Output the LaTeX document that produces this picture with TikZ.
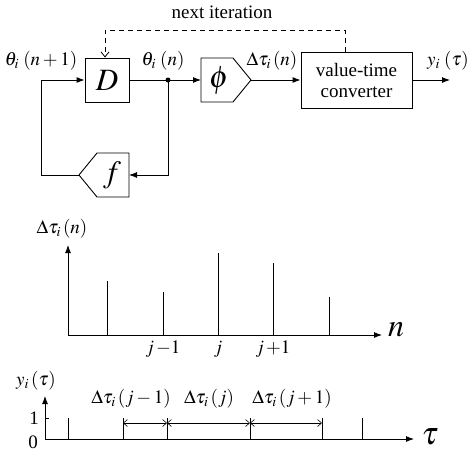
\documentclass[tikz,border=0pt]{standalone}
\usepackage{mathptmx}
\usepackage{fontspec}
\setmainfont{Liberation Serif}
\usetikzlibrary{arrows.meta}

\tikzset{
  blk/.style={draw, line width=0.9pt, inner sep=0pt},
  sig/.style={line width=0.9pt, -{Latex[length=8pt,width=6pt]}},
  barb/.style={line width=0.6pt, {Straight Barb[length=4pt,width=7pt]}-{Straight Barb[length=4pt,width=7pt]}},
  lbl/.style={inner sep=0pt, font=\fontsize{19}{22}\selectfont},
  big/.style={inner sep=0pt, font=\fontsize{32}{32}\selectfont},
}

\begin{document}
\begin{tikzpicture}[x=1pt,y=1pt,yscale=-1,xscale=1]
\useasboundingbox (0,0) rectangle (474,451);

%Shape: Delay block
\node[blk, minimum width=44, minimum height=44] (D) at (107,80) {\fontsize{31}{31}\selectfont$D$};
%Shape: phi block
\draw[line width=0.9pt] (201,58) -- (233,58) -- (251,80) -- (233,102) -- (201,102) -- cycle ;
\node[inner sep=0pt] (phi) at (219,81) {\fontsize{31}{31}\selectfont$\phi$};
\coordinate (phiin) at (201,80);
\coordinate (phiout) at (251,80);
%Shape: f block
\draw[line width=0.9pt] (129,153) -- (97,153) -- (79,175) -- (97,197) -- (129,197) -- cycle ;
\node[inner sep=0pt] (f) at (112,175) {\fontsize{31}{31}\selectfont$f$};
\coordinate (fin) at (129,175);
\coordinate (fout) at (79,175);
%Shape: converter
\node[blk, minimum width=111, minimum height=56, align=center, font=\fontsize{19}{21}\selectfont] (vtc) at (356.5,80) {value-time\\converter};

%Straight Lines: loop
\coordinate (junc) at (168,80);
\coordinate (loop) at (41,175);
\coordinate (yout) at (450,80);
\fill (junc) circle (2.5);
\draw[line width=0.9pt] (D.east) -- (junc) ;
\draw[sig] (junc) -- (phiin) ;
\draw[sig] (junc) |- (fin) ;
\draw[sig] (fout) -- (loop) |- (D.west) ;
\draw[sig] (phiout) -- (vtc.west) ;
\draw[sig] (vtc.east) -- (yout) ;
%Straight Lines: next iteration
\coordinate (itR) at (345,30);
\coordinate (itL) at (105,30);
\draw[line width=0.8pt, dash pattern=on 5pt off 4pt, -{Straight Barb[length=5pt,width=8pt]}] (vtc.north -| itR) -- (itR) -- (itL) -- (D.north -| itL) ;

% Text Node
\node[lbl] (nxt) at (222,12) {next iteration};
% Text Node
\node[lbl] (thin) at (41,61) {$\theta_i\;(n+1)$};
% Text Node
\node[lbl] (thout) at (163,61) {$\theta_i\;(n)$};
% Text Node
\node[lbl] (dtn) at (272,61) {$\Delta\tau_i\,(n)$};
% Text Node
\node[lbl] (yt) at (448,61) {$y_i\;(\tau)$};

%Straight Lines: stem plot
\coordinate (O1) at (68,335);
\coordinate (Y1) at (68,245);
\coordinate (X1) at (382,335);
\draw[sig] (O1) -- (Y1) ;
\draw[sig] (O1) -- (X1) ;
\foreach \x/\h in {107/281, 163/292, 218/253, 273/263, 329/297}
  \draw[line width=0.9pt] (\x,335) -- (\x,\h) ;
% Text Node
\node[lbl] (dtax) at (62,229) {$\Delta\tau_i\,(n)$};
% Text Node
\node[big] (nax) at (396,330) {$n$};
% Text Node
\node[lbl] (jm) at (163,349) {$j\,{-}1$};
% Text Node
\node[lbl] (j) at (218,349) {$j$};
% Text Node
\node[lbl] (jp) at (273,349) {$j\,{+}1$};

%Straight Lines: pulse train
\coordinate (O2) at (45,439);
\coordinate (Y2) at (45,396);
\coordinate (X2) at (414,439);
\draw[sig] (O2) -- (Y2) ;
\draw[sig] (O2) -- (X2) ;
\draw[line width=0.6pt] (45,418) -- (49,418) ;
\foreach \x in {68,123,167,250,322,362}
  \draw[line width=0.9pt] (\x,439) -- (\x,418) ;
\coordinate (p1) at (123,423);
\coordinate (p2) at (167,423);
\coordinate (p3) at (250,423);
\coordinate (p4) at (322,423);
\draw[barb] (p1) -- (p2) ;
\draw[barb] (p2) -- (p3) ;
\draw[barb] (p3) -- (p4) ;
% Text Node
\node[lbl] (ytax) at (36,381) {$y_i\,(\tau)$};
% Text Node
\node[lbl] (one) at (34,418) {1};
% Text Node
\node[lbl] (zero) at (33,442) {0};
% Text Node
\node[big] (tau) at (430,437) {$\tau$};
% Text Node
\node[lbl] (djm) at (131,399) {$\Delta\tau_i\,(j-1)$};
% Text Node
\node[lbl] (dj) at (209,399) {$\Delta\tau_i\,(j)$};
% Text Node
\node[lbl] (djp) at (292,399) {$\Delta\tau_i\,(j+1)$};

\end{tikzpicture}
\end{document}
